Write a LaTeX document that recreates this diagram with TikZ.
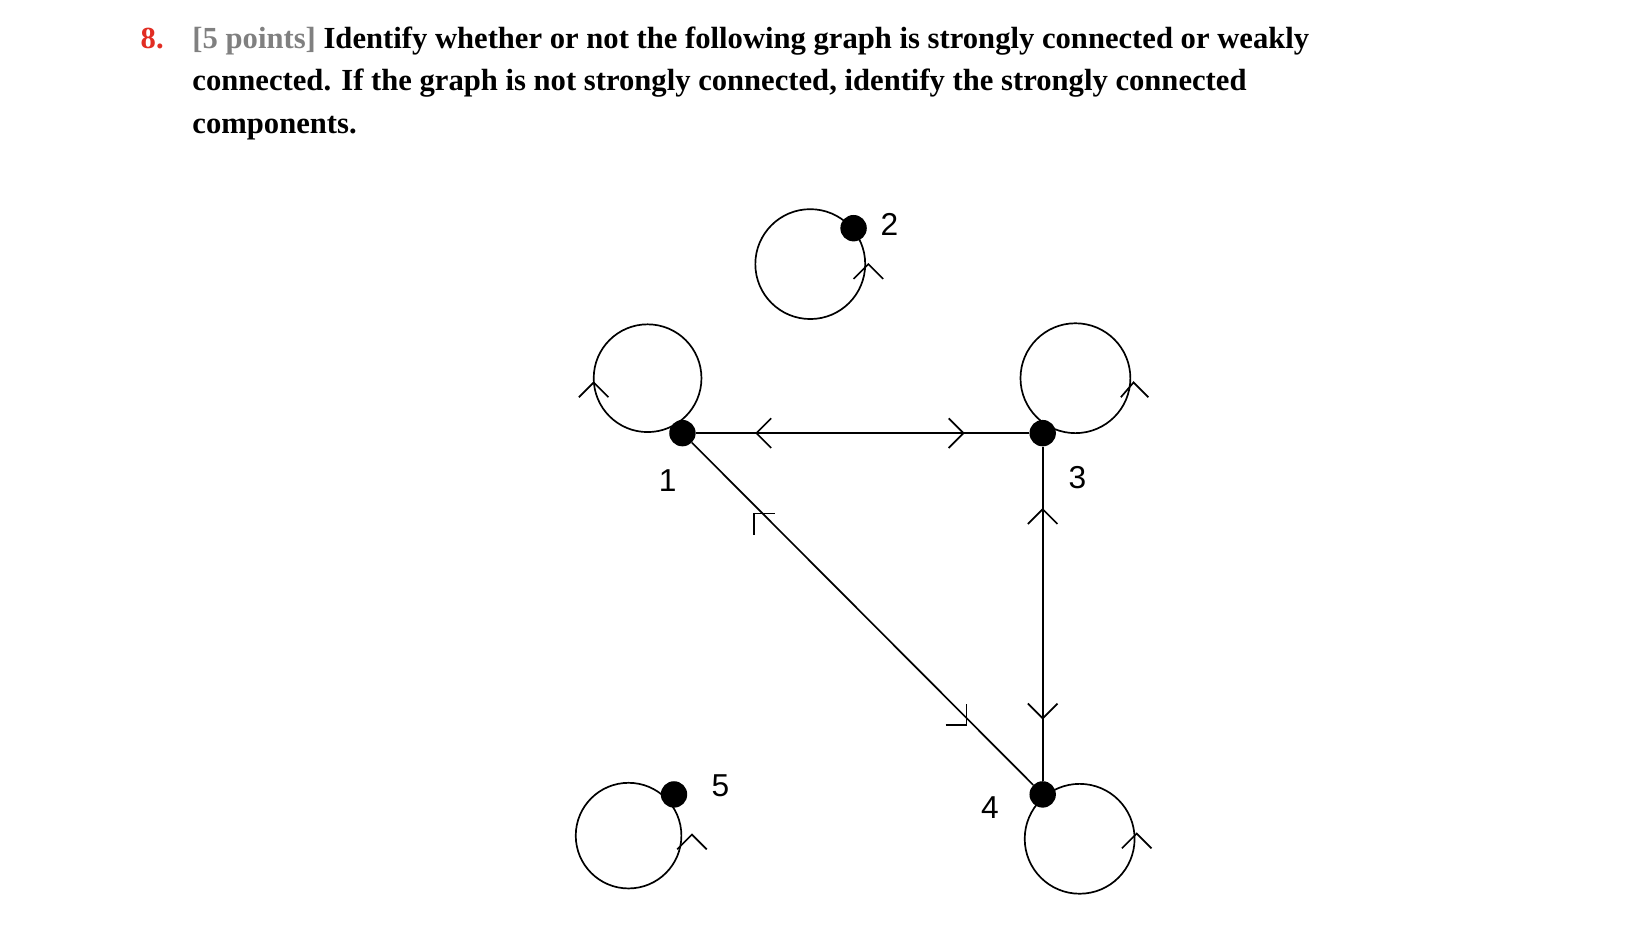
\documentclass[tikz,border=0pt]{standalone}
\usepackage{fontspec}
\setmainfont{Liberation Serif}
\newfontfamily\lblfont{Liberation Sans}
\definecolor{qred}{RGB}{225,45,35}
\definecolor{qgrey}{RGB}{128,128,128}
\begin{document}
\begin{tikzpicture}[x=1pt,y=-1pt,
  vtx/.style={circle,fill=black,inner sep=0pt,minimum width=24pt,minimum height=25pt},
  lbl/.style={font=\lblfont\fontsize{30}{30}\selectfont,inner sep=0pt},
  ln/.style={line width=1.6pt},
  txt/.style={font=\bfseries\fontsize{29}{29}\selectfont,anchor=base west,inner sep=0pt}]
\useasboundingbox (0,0) rectangle (1560,900);
% text
\node[txt,text=qred] (num) at (133,46) {8.};
\node[txt] (l1) at (182,46) {\textcolor{qgrey}{[5 points]} Identify whether or not the following graph is strongly connected or weakly};
\node[txt] (l2) at (182,86) {connected. If the graph is not strongly connected, identify the strongly connected};
\node[txt] (l3) at (182,126) {components.};
% loops
\draw[ln] (613,358) circle (51);
\draw[ln] (1018,358) circle (52);
\draw[ln] (767,250) circle (52);
\draw[ln] (595,791) circle (50);
\draw[ln] (1022,794) circle (52);
% vertices
\node[vtx] (v1) at (646,410) {};
\node[vtx] (v3) at (987,410) {};
\node[vtx] (v4) at (987,752) {};
\node[vtx] (v2) at (808,216) {};
\node[vtx] (v5) at (638,752) {};
% labels
\node[lbl] (t1) at (632,455) {1};
\node[lbl] (t2) at (842,212) {2};
\node[lbl] (t3) at (1020,452) {3};
\node[lbl] (t4) at (937,764) {4};
\node[lbl] (t5) at (682,744) {5};
% edges
\draw[ln] (v1) -- (v3);
\draw[ln] (v3) -- (v4);
\draw[ln] (v1) -- (v4);
% arrowheads on edges
\draw[ln] (730,396) -- (716,410) -- (730,424);
\draw[ln] (898,396) -- (912,410) -- (898,424);
\draw[ln] (973,496) -- (987,482) -- (1001,496);
\draw[ln] (973,666) -- (987,680) -- (1001,666);
\draw[ln] (714,506) -- (714,486) -- (734,486);
\draw[ln] (895,686) -- (915,686) -- (915,666);
% arrowheads on loops (pointing up)
\draw[ln] (548,376) -- (562,362) -- (576,376);
\draw[ln] (1061,376) -- (1073,362) -- (1087,376);
\draw[ln] (808,264) -- (822,250) -- (836,264);
\draw[ln] (641,804) -- (655,790) -- (669,804);
\draw[ln] (1062,803) -- (1076,789) -- (1090,803);
\end{tikzpicture}
\end{document}
